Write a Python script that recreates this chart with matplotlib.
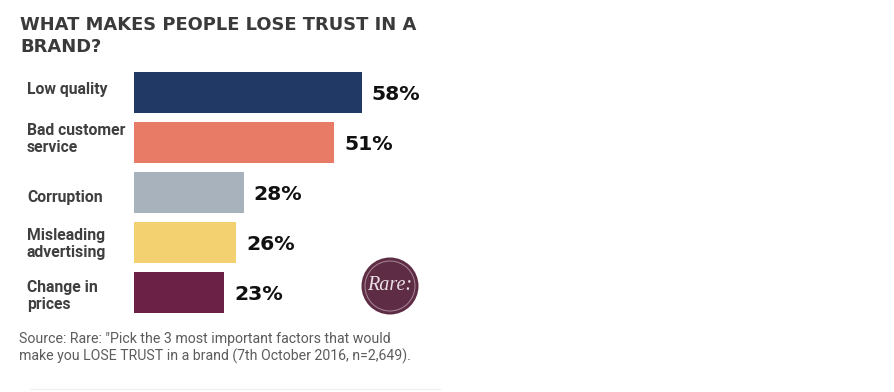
import matplotlib
matplotlib.use("Agg")
import matplotlib.pyplot as plt
from matplotlib.patches import Circle

W, H = 895, 392

title = "WHAT MAKES PEOPLE LOSE TRUST IN A\nBRAND?"
factors = ["Low quality", "Bad customer\nservice", "Corruption",
           "Misleading\nadvertising", "Change in\nprices"]
shares = [58, 51, 28, 26, 23]
colors = ["#213a65", "#e87b65", "#a8b2bd", "#f3d070", "#6b2145"]
source = ("Source: Rare: \"Pick the 3 most important factors that would\n"
          "make you LOSE TRUST in a brand (7th October 2016, n=2,649).")

fig = plt.figure(figsize=(W / 100, H / 100), dpi=100, facecolor="white")

# bars live in an axes placed by pixels, 3.93 px per percent
left, top, bottom, right = 134, 67, 318, 440
ax = fig.add_axes([left / W, 1 - bottom / H, (right - left) / W, (bottom - top) / H])
ypos = range(len(factors))
ax.barh(ypos, shares, height=0.82, color=colors)
ax.set_xlim(0, (right - left) / 3.93)
ax.set_ylim(4.5, -0.5)
ax.axis("off")

for y, s in zip(ypos, shares):
    ax.annotate("%d%%" % s, (s, y), xytext=(7, -1.5), textcoords="offset points",
                va="center", ha="left", fontsize=14.7, fontweight="bold",
                family="DejaVu Sans", color="#111111")

# overlay in pixel coordinates for the free text and the logo
ov = fig.add_axes([0, 0, 1, 1], facecolor="none")
ov.set_xlim(0, W)
ov.set_ylim(H, 0)
ov.axis("off")

ov.text(20, 36, title, fontsize=12.9, fontweight="bold", family="DejaVu Sans",
        color="#3a3a3a", va="center", ha="left", linespacing=1.3)

label_y = [89, 139, 197, 244, 296]
for y, lab in zip(label_y, factors):
    ov.text(27, y, lab, fontsize=11.3, fontweight="bold", family="Roboto",
            color="#3f3f3f", va="center", ha="left", linespacing=1.2)

ov.text(19, 348, source, fontsize=10.15, family="Roboto", color="#5c5c5c",
        va="center", ha="left", linespacing=1.15)

# Rare logo
ov.add_patch(Circle((390, 286), 28.5, color="#5e2c44", lw=0))
ov.add_patch(Circle((390, 286), 25, fill=False, ec="#a98a98", lw=0.7))
ov.text(390, 286, "Rare:", fontsize=14.5, style="italic", family="Liberation Serif",
        color="#eadfe3", va="center", ha="center")

# faint rule at the bottom edge
ov.plot([30, 440], [389, 389], color="#f2f2f2", lw=1)

fig.savefig("out.png", dpi=100)
